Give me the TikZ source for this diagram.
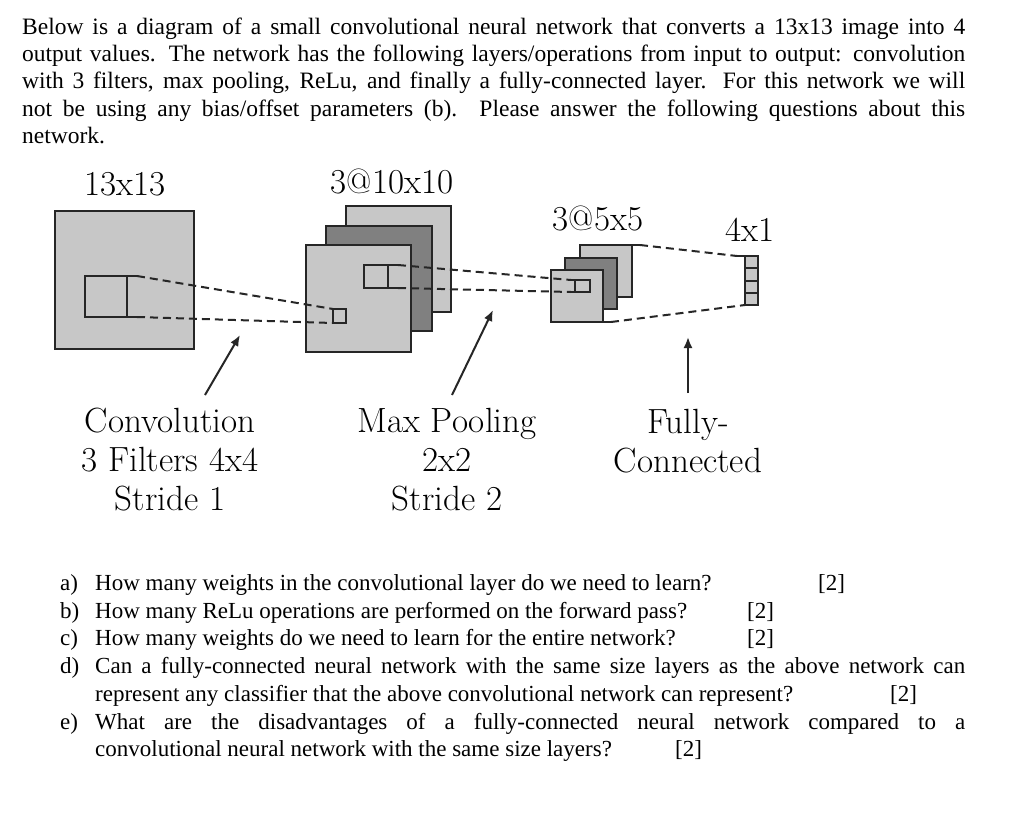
\documentclass[tikz,border=0pt]{standalone}
\usepackage{fontspec}
\usetikzlibrary{arrows.meta}
\newfontfamily\tnr{Liberation Serif}
\begin{document}
\begin{tikzpicture}[x=1pt,y=-1pt,
  box/.style={draw=black!85,line width=2.2pt,fill=black!22},
  dbox/.style={draw=black!85,line width=2.2pt,fill=black!50},
  thn/.style={draw=black!85,line width=2pt},
  dsh/.style={draw=black!85,line width=2pt,dash pattern=on 8pt off 5pt},
  arr/.style={draw=black!85,line width=2pt,-{Latex[length=11pt,width=9pt]}},
  lab/.style={font=\fontsize{35}{40}\selectfont,align=center},
  ml/.style={font=\fontsize{35}{39}\selectfont,align=center},
  p/.style={anchor=base west,inner sep=0,font=\tnr\fontsize{23.5}{27}\selectfont},
  q/.style={anchor=base west,inner sep=0,font=\tnr\fontsize{23}{27}\selectfont}]
\useasboundingbox[fill=white] (0,0) rectangle (1024,821);
\node[p] (p1) at (22,35) {\makebox[943pt][s]{Below is a diagram of a small convolutional neural network that converts a 13x13 image into 4}};
\node[p] (p2) at (22,62) {\makebox[943pt][s]{output values. The network has the following layers/operations from input to output: convolution}};
\node[p] (p3) at (22,89) {\makebox[943pt][s]{with 3 filters, max pooling, ReLu, and finally a fully-connected layer. For this network we will}};
\node[p] (p4) at (22,117) {\makebox[943pt][s]{not be using any bias/offset parameters (b). Please answer the following questions about this}};
\node[p] (p5) at (22,144) {network.};
% input
\draw[box] (55,211) rectangle (194,349);
\draw[thn] (85,276) rectangle (127,317);
\draw[thn] (127,276) -- (137,276) (127,317) -- (137,317);
% layer2
\draw[box] (346,206) rectangle (451,312);
\draw[dbox] (326,226) rectangle (432,331);
\draw[box] (306,245) rectangle (411,352);
\draw[thn] (333,309) rectangle (346,323);
\draw[thn] (364,265) rectangle (388,288);
\draw[thn] (388,265) -- (398,265) (388,288) -- (398,288);
\coordinate (a1) at (137,276); \coordinate (a2) at (137,317);
\coordinate (b1) at (333,309); \coordinate (b2) at (333,323);
\draw[dsh] (a1) -- (b1) (a2) -- (b2);
% layer3
\draw[box] (580,245) rectangle (632,297);
\draw[dbox] (565,258) rectangle (617,309);
\draw[box] (551,270) rectangle (603,322);
\draw[thn] (575,280) rectangle (590,292);
\draw[thn] (571,280) -- (575,280) (571,292) -- (575,292);
\coordinate (c1) at (398,265); \coordinate (c2) at (398,288);
\coordinate (d1) at (571,280); \coordinate (d2) at (571,292);
\draw[dsh] (c1) -- (d1) (c2) -- (d2);
\draw[thn] (632,245) -- (640,245) (603,322) -- (611,322);
% output
\draw[box] (745,256) rectangle (758,305);
\foreach \y in {268.25,280.5,292.75} \draw[thn] (745,\y) -- (758,\y);
\draw[thn] (737,256) -- (745,256);
\coordinate (e1) at (640,245); \coordinate (e2) at (611,322);
\coordinate (f1) at (737,256); \coordinate (f2) at (745,305);
\draw[dsh] (e1) -- (f1) (e2) -- (f2);
% labels
\node[lab] (l1) at (125,184) {13x13};
\node[lab] (l2) at (392,181) {3@10x10};
\node[lab] (l3) at (598,218) {3@5x5};
\node[lab] (l4) at (750,230) {4x1};
\node[ml] (t1) at (170,460) {Convolution\\3 Filters 4x4\\Stride 1};
\node[ml] (t2) at (447,460) {Max Pooling\\2x2\\Stride 2};
\node[ml] (t3) at (688,441) {Fully-\\Connected};
\coordinate (s1) at (205,395); \coordinate (h1) at (240,335);
\coordinate (s2) at (452,395); \coordinate (h2) at (493,310);
\coordinate (s3) at (688,393); \coordinate (h3) at (688,337);
\draw[arr] (s1) -- (h1); \draw[arr] (s2) -- (h2); \draw[arr] (s3) -- (h3);
% questions
\node[q] (qa) at (60,590) {a)}; \node[q] (qa1) at (95,590) {How many weights in the convolutional layer do we need to learn?}; \node[q] (qa2) at (818,590) {[2]};
\node[q] (qb) at (60,618) {b)}; \node[q] (qb1) at (95,618) {How many ReLu operations are performed on the forward pass?}; \node[q] (qb2) at (747,618) {[2]};
\node[q] (qc) at (60,645) {c)}; \node[q] (qc1) at (95,645) {How many weights do we need to learn for the entire network?}; \node[q] (qc2) at (747,645) {[2]};
\node[q] (qd) at (60,673) {d)};
\node[q] (qd1) at (95,673) {\makebox[870pt][s]{Can a fully-connected neural network with the same size layers as the above network can}};
\node[q] (qd2) at (95,701) {represent any classifier that the above convolutional network can represent?}; \node[q] (qd3) at (890,701) {[2]};
\node[q] (qe) at (60,729) {e)};
\node[q] (qe1) at (95,729) {\makebox[870pt][s]{What are the disadvantages of a fully-connected neural network compared to a}};
\node[q] (qe2) at (95,756) {convolutional neural network with the same size layers?}; \node[q] (qe3) at (675,756) {[2]};
\end{tikzpicture}
\end{document}
